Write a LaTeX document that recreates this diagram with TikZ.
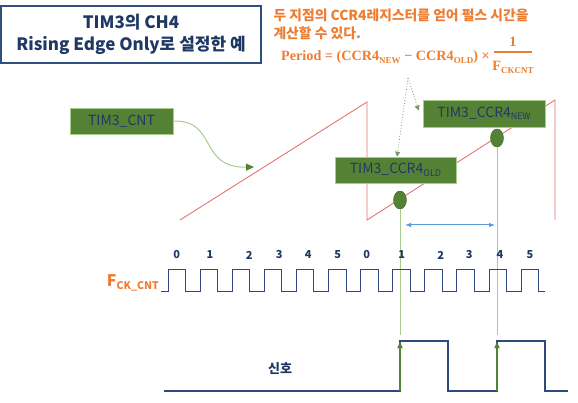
\documentclass[tikz,border=0pt]{standalone}
\usepackage{fontspec}
\setmainfont{Noto Sans CJK KR}
\newfontfamily\eqfont{Liberation Serif}
\usetikzlibrary{arrows.meta,shapes.geometric}
\definecolor{navy}{HTML}{1F3864}
\definecolor{frame}{HTML}{2F4F80}
\definecolor{boxgreen}{HTML}{548235}
\definecolor{lightgreen}{HTML}{A9CB8E}
\definecolor{orng}{HTML}{ED7D31}
\definecolor{sigblue}{HTML}{2F4A7A}
\definecolor{sawred}{HTML}{E57373}
\definecolor{gapblue}{HTML}{5B9BD5}
\newcommand\lowsub[1]{\raisebox{-2.5pt}{\fontsize{9}{9}\selectfont #1}}

\begin{document}
\begin{tikzpicture}[x=1pt, y=-1pt,
  reg/.style={fill=boxgreen, draw=lightgreen, line width=0.6pt, text=navy,
    font=\fontsize{14}{14}\selectfont, inner sep=0pt},
  pin/.style={ellipse, fill=boxgreen, draw=boxgreen!80!black, line width=0.4pt,
    minimum width=13pt, minimum height=18pt, inner sep=0pt},
  wave/.style={sigblue, line width=1.1pt},
  cnt/.style={text=navy, font=\bfseries\fontsize{11}{11}\selectfont},
  eq/.style={text=orng, font=\eqfont\bfseries\fontsize{14.2}{14.2}\selectfont, inner sep=0pt}]
  \useasboundingbox (0,0) rectangle (578,403);

  % title and note
  \node[draw=frame, line width=1.5pt, minimum width=260pt, minimum height=57pt,
        align=center, text=navy, font=\bfseries\fontsize{17}{22}\selectfont]
        (title) at (131,34.5) {TIM3의 CH4\\Rising Edge Only로 설정한 예};
  \node[anchor=west, align=left, text=orng, font=\bfseries\fontsize{13.8}{18}\selectfont]
        (note) at (270,24) {두 지점의 CCR4레지스터를 얻어 펄스 시간을\\계산할 수 있다.};
  \node[eq, anchor=base west] (period) at (281,61)
        {Period = (CCR4\lowsub{NEW} − CCR4\lowsub{OLD}) ×};
  \node[eq, anchor=base] (num) at (513,47) {1};
  \node[eq, anchor=base] (den) at (513,71) {F\lowsub{CKCNT}};
  \draw[orng, line width=1.2pt] (494,52) -- (532,52);

  % counter ramp
  \draw[sawred, line width=0.9pt] (180,220) -- (367,102) -- (367,220) -- (555,100) -- (555,220);

  \node[reg, minimum width=103pt, minimum height=26pt] (tcnt) at (121.5,121) {TIM3\_CNT};
  \node[reg, minimum width=122pt, minimum height=27pt] (new) at (484,113.5) {TIM3\_CCR4\lowsub{NEW}};
  \node[reg, minimum width=121pt, minimum height=26pt] (old) at (395.5,170) {TIM3\_CCR4\lowsub{OLD}};

  \draw[lightgreen, line width=1pt, -{Triangle[length=8pt, width=7pt, color=boxgreen]}]
        (tcnt.east) .. controls (218,120) and (198,168) .. (254,167);

  \coordinate (src) at (408,78);
  \draw[boxgreen!80, dotted, line width=0.8pt, -{Triangle[length=5pt, width=5pt]}] (src) -- ([xshift=1.5pt]old.north);
  \draw[boxgreen!80, dotted, line width=0.8pt, -{Triangle[length=5pt, width=5pt]}] (src) -- ([xshift=-4pt, yshift=3pt]new.west);

  % capture points
  \node[pin] (pold) at (400,200) {};
  \node[pin] (pnew) at (497,138) {};
  \coordinate (eold) at (400,335);
  \coordinate (enew) at (497,335);
  \draw[lightgreen, line width=1pt] (pold.south) -- (eold);
  \draw[lightgreen, line width=1pt] (pnew.south) -- (enew);
  \draw[gapblue, line width=1pt, {Latex[length=6pt]}-{Latex[length=6pt]}] (405,225) -- (495,225);

  % clock
  \foreach \x/\v in {176.7/0, 210/1, 249.3/2, 279.3/3, 308.3/4, 337.7/5,
                     366.7/0, 401.7/1, 440.7/2, 469.3/3, 500/4, 530/5}
    \node[cnt] at (\x,255) {\v};
  \draw[wave, line width=1pt] (161,291)
    \foreach \k in {0,...,11} { -- ({168+32.1*\k},291) -- ({168+32.1*\k},270)
                                -- ({185.5+32.1*\k},270) -- ({185.5+32.1*\k},291) }
    -- (545,291);
  \node[anchor=east, text=orng, inner sep=0pt] (fck) at (159,283)
    {\bfseries\fontsize{16}{16}\selectfont F\raisebox{-3pt}{\fontsize{10.5}{10.5}\selectfont CK\_CNT}};

  % signal
  \draw[wave] (164,391) -- (400,391) -- (400,341) -- (448,341) -- (448,391)
              -- (497,391) -- (497,341) -- (545,341) -- (545,391) -- (568,391);
  \draw[boxgreen, line width=1.2pt, -{Latex[length=7pt, width=6pt]}] (400,391) -- (400,341);
  \draw[boxgreen, line width=1.2pt, -{Latex[length=7pt, width=6pt]}] (497,391) -- (497,341);
  \node[text=navy, font=\bfseries\fontsize{13}{13}\selectfont] (sig) at (280,369) {신호};
\end{tikzpicture}
\end{document}
